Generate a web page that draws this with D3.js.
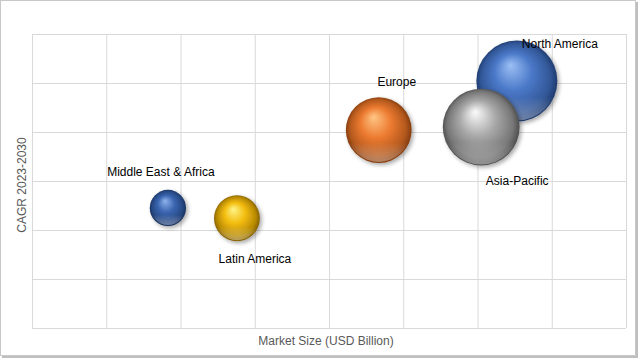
<!DOCTYPE html>
<html>
<head>
<meta charset="utf-8">
<script src="https://cdn.jsdelivr.net/npm/d3@7"></script>
<style>
  body { margin: 0; background: #fff; }
  svg { display: block; font-family: "Liberation Sans", Arial, sans-serif; }
  .grid line { stroke: #d9d9d9; stroke-width: 1; }
  .grid path { display: none; }
  .label { font-size: 12px; fill: #000; }
  .title { font-size: 12px; fill: #595959; }
</style>
</head>
<body>
<svg id="chart" width="641" height="359"></svg>
<script>
// data
var regions = ["Middle East & Africa", "Latin America", "Europe", "North America", "Asia-Pacific"];
var marketSize = [1.83, 2.76, 4.67, 6.53, 6.05];
var cagr = [2.45, 2.24, 4.04, 5.04, 4.10];
var bubbleSize = [20, 32, 66, 100, 90];

// sphere colours: [highlight, base, dark]
var palette = [
  ["#8fb2ec", "#3a65b0", "#142a55"],
  ["#fff48a", "#f2bb0a", "#7a5600"],
  ["#ffc685", "#ec7a30", "#7a360a"],
  ["#9cc0f5", "#4a78c8", "#1a3566"],
  ["#fbfbfb", "#a8a8a8", "#454545"]
];
// label offsets from bubble centre
var labelDx = [-7, 18, 18, 43, 36];
var labelDy = [-36, 41, -48, -37, 54];

var margin = {top: 34, right: 15, bottom: 31, left: 32};
var width = 641 - margin.left - margin.right;
var height = 359 - margin.top - margin.bottom;

var svg = d3.select("#chart");
var defs = svg.append("defs");

// outer frame
svg.append("rect")
    .attr("x", 2).attr("y", 2).attr("width", 636).attr("height", 356)
    .attr("fill", "#bfbfbf");
svg.append("rect")
    .attr("x", 0.5).attr("y", 0.5).attr("width", 635).attr("height", 355)
    .attr("fill", "#fff")
    .attr("stroke", "#c8c8c8");

var x = d3.scaleLinear().domain([0, 8]).range([0, width]);
var y = d3.scaleLinear().domain([0, 6]).range([height, 0]);
var r = d3.scaleSqrt().domain([0, 100]).range([0, 40.5]);

var g = svg.append("g")
    .attr("transform", "translate(" + margin.left + "," + margin.top + ")");

g.append("g")
    .attr("class", "grid")
    .attr("transform", "translate(0," + height + ")")
    .call(d3.axisBottom(x).ticks(8).tickSize(-height).tickFormat(""));
g.append("g")
    .attr("class", "grid")
    .call(d3.axisLeft(y).ticks(6).tickSize(-width).tickFormat(""));

// shadow filter
var f = defs.append("filter").attr("id", "shadow")
    .attr("x", "-30%").attr("y", "-30%").attr("width", "160%").attr("height", "160%");
f.append("feGaussianBlur").attr("in", "SourceAlpha").attr("stdDeviation", 2);
f.append("feOffset").attr("dx", 1.5).attr("dy", 2).attr("result", "b");
f.append("feComponentTransfer").append("feFuncA").attr("type", "linear").attr("slope", 0.35);
var merge = f.append("feMerge");
merge.append("feMergeNode");
merge.append("feMergeNode").attr("in", "SourceGraphic");

palette.forEach(function(c, i) {
  var grad = defs.append("radialGradient")
      .attr("id", "sphere" + i)
      .attr("cx", "50%").attr("cy", "50%").attr("r", "52%")
      .attr("fx", "42%").attr("fy", "30%");
  grad.append("stop").attr("offset", "0%").attr("stop-color", c[0]);
  grad.append("stop").attr("offset", "45%").attr("stop-color", c[1]);
  grad.append("stop").attr("offset", "82%").attr("stop-color", d3.interpolateRgb(c[1], c[2])(0.5));
  grad.append("stop").attr("offset", "100%").attr("stop-color", c[2]);
});

// bottom reflection
var refl = defs.append("linearGradient").attr("id", "refl")
    .attr("x1", 0).attr("y1", 0).attr("x2", 0).attr("y2", 1);
refl.append("stop").attr("offset", "70%").attr("stop-color", "#fff").attr("stop-opacity", 0);
refl.append("stop").attr("offset", "100%").attr("stop-color", "#fff").attr("stop-opacity", 0.35);

var data = regions.map(function(name, i) {
  return {name: name, x: marketSize[i], y: cagr[i], s: bubbleSize[i], i: i};
});

var bubbles = g.selectAll(".bubble").data(data)
  .enter().append("g")
    .attr("class", "bubble");

bubbles.append("circle")
    .attr("cx", function(d) { return x(d.x); })
    .attr("cy", function(d) { return y(d.y); })
    .attr("r", function(d) { return r(d.s); })
    .attr("fill", function(d) { return "url(#sphere" + d.i + ")"; })
    .attr("filter", "url(#shadow)");

bubbles.append("circle")
    .attr("cx", function(d) { return x(d.x); })
    .attr("cy", function(d) { return y(d.y); })
    .attr("r", function(d) { return r(d.s) - 1; })
    .attr("fill", "url(#refl)");

g.selectAll(".label").data(data)
  .enter().append("text")
    .attr("class", "label")
    .attr("text-anchor", "middle")
    .attr("dy", "0.35em")
    .attr("x", function(d) { return x(d.x) + labelDx[d.i]; })
    .attr("y", function(d) { return y(d.y) + labelDy[d.i]; })
    .text(function(d) { return d.name; });

svg.append("text")
    .attr("class", "title")
    .attr("text-anchor", "middle")
    .attr("x", 326)
    .attr("y", 345)
    .text("Market Size (USD Billion)");

svg.append("text")
    .attr("class", "title")
    .attr("text-anchor", "middle")
    .attr("transform", "translate(26,185) rotate(-90)")
    .text("CAGR 2023-2030");
</script>
</body>
</html>
